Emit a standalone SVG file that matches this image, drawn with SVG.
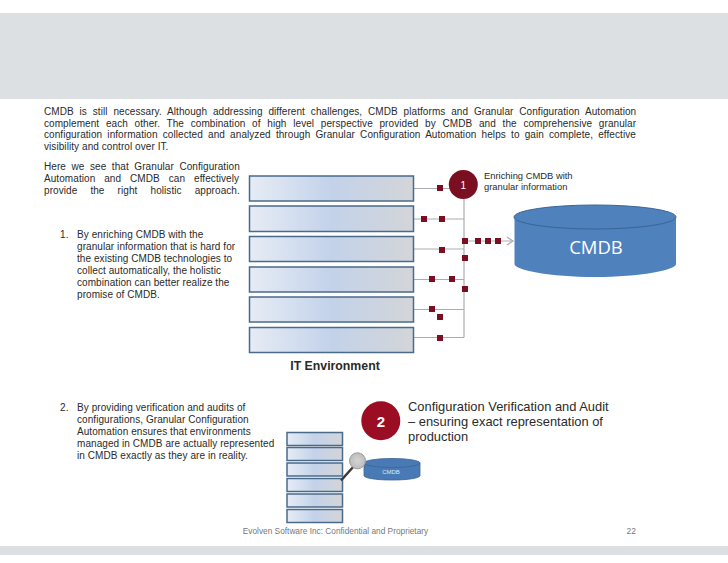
<svg xmlns="http://www.w3.org/2000/svg" width="728" height="563" viewBox="0 0 728 563">
<style>
text{font-family:"Liberation Sans",Arial,sans-serif;fill:#2a2a2a}
.b{font-size:10px;letter-spacing:.07px}
.box{stroke:#4a6a8a;stroke-width:1.5;fill:url(#g)}
.ln{stroke:#a9adb1;stroke-width:1.2;fill:none}
.sq{fill:#7b0f22}
</style>
<defs>
<linearGradient id="g"><stop offset="0" stop-color="#e6ecf5"/><stop offset=".5" stop-color="#c3d2ea"/><stop offset="1" stop-color="#d3d5d8"/></linearGradient>
<radialGradient id="mag"><stop offset="0" stop-color="#d4d4d4"/><stop offset="1" stop-color="#bdbdbd"/></radialGradient>
</defs>
<rect width="728" height="563" fill="#fff"/>
<rect y="13" width="728" height="86" fill="#dce0e3"/>
<rect y="546" width="728" height="9" fill="#dce0e3"/>
<g id="intro">
<text class="b" x="44" y="114.500" word-spacing="3">CMDB is still necessary. Although addressing different challenges, CMDB platforms and Granular Configuration Automation</text>
<text class="b" x="44" y="126.500" word-spacing="3.870">complement each other. The combination of high level perspective provided by CMDB and the comprehensive granular</text>
<text class="b" x="44" y="138" word-spacing="2.330">configuration information collected and analyzed through Granular Configuration Automation helps to gain complete, effective</text>
<text class="b" x="44" y="150">visibility and control over IT.</text>
<text class="b" x="44" y="170" word-spacing="2.700">Here we see that Granular Configuration</text>
<text class="b" x="44" y="182" word-spacing="6.100">Automation and CMDB can effectively</text>
<text class="b" x="44" y="194" word-spacing="10.250">provide the right holistic approach.</text>
</g>
<g id="list1">
<text class="b" x="60" y="238">1.</text>
<text class="b" x="77" y="238">By enriching CMDB with the</text>
<text class="b" x="77" y="250">granular information that is hard for</text>
<text class="b" x="77" y="262">the existing CMDB technologies to</text>
<text class="b" x="77" y="274">collect automatically, the holistic</text>
<text class="b" x="77" y="286">combination can better realize the</text>
<text class="b" x="77" y="298">promise of CMDB.</text>
</g>
<g id="list2">
<text class="b" x="60" y="411">2.</text>
<text class="b" x="77" y="411">By providing verification and audits of</text>
<text class="b" x="77" y="423">configurations, Granular Configuration</text>
<text class="b" x="77" y="435">Automation ensures that environments</text>
<text class="b" x="77" y="447">managed in CMDB are actually represented</text>
<text class="b" x="77" y="459">in CMDB exactly as they are in reality.</text>
</g>
<g id="connectors">
<path class="ln" d="M414 188.500H450M414 219H464M414 249H464M414 279.500H464M414 309.500H464M414 337.500H464M464 199V337.500M464 241H513"/>
<path class="ln" d="M507 237L513 241L507 245" stroke-width="1"/>
<g class="sq">
<rect x="437" y="185" width="6" height="6"/>
<rect x="421" y="216" width="6" height="6"/><rect x="439" y="216" width="6" height="6"/>
<rect x="439" y="247" width="6" height="6"/>
<rect x="462" y="238" width="6" height="6"/><rect x="475" y="238" width="6" height="6"/><rect x="485" y="238" width="6" height="6"/><rect x="495" y="238" width="6" height="6"/>
<rect x="462" y="255" width="6" height="6"/><rect x="462" y="286" width="6" height="6"/>
<rect x="429" y="276" width="6" height="6"/><rect x="449" y="276" width="6" height="6"/>
<rect x="429" y="306" width="6" height="6"/><rect x="437" y="314" width="6" height="6"/>
<rect x="437" y="335" width="6" height="6"/>
</g>
</g>
<g id="it-stack">
<rect class="box" x="249.500" y="176" width="164" height="25"/>
<rect class="box" x="249.500" y="206" width="164" height="25.500"/>
<rect class="box" x="249.500" y="236.500" width="164" height="25"/>
<rect class="box" x="249.500" y="267" width="164" height="25"/>
<rect class="box" x="249.500" y="297" width="164" height="25"/>
<rect class="box" x="249.500" y="327.500" width="164" height="25"/>
<text x="335" y="369.500" text-anchor="middle" font-size="12.300" font-weight="700">IT Environment</text>
</g>
<g id="badge1">
<circle cx="463.300" cy="184.500" r="14.500" fill="#7b0f22"/>
<text x="463.300" y="188.500" text-anchor="middle" font-size="10" style="fill:#fff">1</text>
</g>
<g id="enrich-label">
<text x="484" y="178.500" font-size="9.400">Enriching CMDB with</text>
<text x="484" y="189.500" font-size="9.400">granular information</text>
</g>
<g id="cmdb">
<path d="M514.500 217V264C514.500 270 550 277 595 277S676 270 676 264V217Z" fill="#4f81bd"/>
<ellipse cx="595" cy="217" rx="81" ry="12" fill="#4f81bd" stroke="#3a6595" stroke-width="1"/>
<text x="596" y="253.500" text-anchor="middle" font-size="18.500" style="fill:#fff;font-family:'Open Sans',sans-serif">CMDB</text>
</g>
<g id="badge2">
<circle cx="380.800" cy="420.800" r="19.500" fill="#9b0d22"/>
<text x="380.800" y="426.500" text-anchor="middle" font-size="15" font-weight="700" style="fill:#fff">2</text>
</g>
<g id="audit-label">
<text x="408" y="411" font-size="12.900">Configuration Verification and Audit</text>
<text x="408" y="426" font-size="12.900">– ensuring exact representation of</text>
<text x="408" y="441" font-size="12.900">production</text>
</g>
<g id="small-stack">
<rect class="box" x="287" y="432.500" width="55.500" height="13"/>
<rect class="box" x="287" y="447.500" width="55.500" height="13"/>
<rect class="box" x="287" y="463" width="55.500" height="13"/>
<rect class="box" x="287" y="478.500" width="55.500" height="13"/>
<rect class="box" x="287" y="494" width="55.500" height="13"/>
<rect class="box" x="287" y="509.500" width="55.500" height="13"/>
</g>
<g id="small-cmdb">
<path d="M364 463V475.500C364 478 375 480 392 480S420 478 420 475.500V463Z" fill="#4a7ab5" stroke="#3a6595" stroke-width=".8"/>
<ellipse cx="392" cy="463" rx="28" ry="4.500" fill="#4a7ab5" stroke="#3a6595" stroke-width=".8"/>
<text x="391" y="474" text-anchor="middle" font-size="6" style="fill:#dfe8f3">CMDB</text>
</g>
<g id="magnifier">
<path d="M341 480.500L354 466" stroke="#3a3a3a" stroke-width="2.500"/>
<circle cx="357.500" cy="460.800" r="8" fill="url(#mag)" stroke="#9a9a9a" stroke-width="1"/>
</g>
<g id="footer">
<text x="335.500" y="534" text-anchor="middle" font-size="8.300" style="fill:#777">Evolven Software Inc: Confidential and Proprietary</text>
<text x="626.500" y="534" font-size="8.500" style="fill:#777">22</text>
</g>
</svg>
